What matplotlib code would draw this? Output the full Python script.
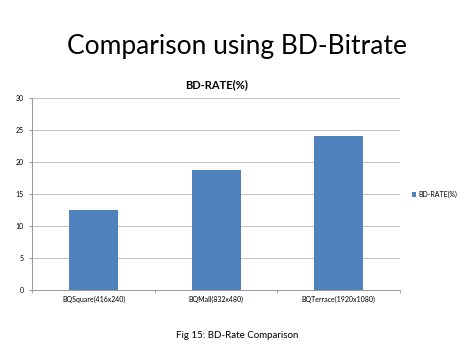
import matplotlib.pyplot as plt
import numpy as np

plt.rcParams['font.family'] = ['Lato', 'DejaVu Sans']

categories = ["BQSquare(416x240)", "BQMall(832x480)", "BQTerrace(1920x1080)"]
bd_rate = [12.5, 18.8, 24.1]
y_ticks = [0, 5, 10, 15, 20, 25, 30]

fig = plt.figure(figsize=(4.74, 3.55), dpi=100)
fig.text(0.5, 0.87, "Comparison using BD-Bitrate", ha="center", va="center", fontsize=19)
fig.text(0.5, 0.055, "Fig 15: BD-Rate Comparison", ha="center", va="center", fontsize=7)

ax = fig.add_axes([0.068, 0.182, 0.776, 0.541])
x = np.arange(len(categories))
ax.bar(x, bd_rate, width=0.4, color="#4f81bd", label="BD-RATE(%)", zorder=3)
ax.set_xlim(-0.5, len(categories) - 0.5)
ax.set_ylim(0, 30)
ax.set_yticks(y_ticks)
ax.set_xticks(x)
ax.set_xticklabels(categories)
ax.set_xticks(np.arange(len(categories) + 1) - 0.5, minor=True)
ax.tick_params(axis="x", which="major", length=0, labelsize=5, pad=4)
ax.tick_params(axis="x", which="minor", length=2, color="#999999")
ax.tick_params(axis="y", labelsize=5, length=2, color="#999999", pad=4)
ax.grid(axis="y", color="#c4c4c4", linewidth=0.7, zorder=0)
for side in ["top", "right"]:
    ax.spines[side].set_visible(False)
for side in ["left", "bottom"]:
    ax.spines[side].set_color("#999999")
    ax.spines[side].set_linewidth(0.7)

ax.set_title("BD-RATE(%)", fontsize=8, fontweight="bold", pad=7)
ax.legend(loc="center left", bbox_to_anchor=(1.015, 0.5), frameon=False,
          fontsize=5, handlelength=0.6, handleheight=0.6, handletextpad=0.4)

fig.savefig("out.png", dpi=100)
